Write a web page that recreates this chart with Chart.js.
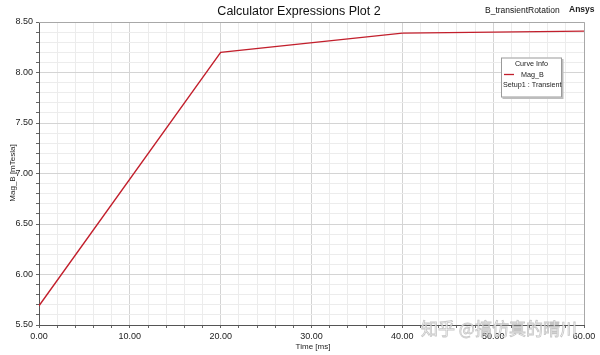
<!DOCTYPE html>
<html>
<head>
<meta charset="utf-8">
<script src="https://cdn.jsdelivr.net/npm/chart.js@4"></script>
<style>
  html, body { margin: 0; padding: 0; background: #ffffff; }
  #wrap { width: 600px; height: 355px; position: relative; }
  canvas { display: block; }
</style>
</head>
<body>
<div id="wrap"><canvas id="c" width="600" height="355"></canvas></div>
<script>
// ---- data ----
const timeMs = [0, 20, 40, 50, 60];
const magB = [5.69, 8.20, 8.39, 8.40, 8.41];
const xTickLabels = ['0.00', '10.00', '20.00', '30.00', '40.00', '50.00', '60.00'];
const yTickLabels = ['5.50', '6.00', '6.50', '7.00', '7.50', '8.00', '8.50'];
const seriesName = 'Mag_B';
const seriesSetup = 'Setup1 : Transient';
const chartTitle = 'Calculator Expressions Plot 2';
const designName = 'B_transientRotation';
const brandName = 'Ansys';
const xTitle = 'Time [ms]';
const yTitle = 'Mag_B [mTesla]';
const legendTitle = 'Curve Info';
const watermark = '知乎 @搞仿真的晴川';

const FONT = '"Liberation Sans", Arial, sans-serif';
const LINE_COLOR = '#c21f2c';

function isMajor(v, step) {
  const r = v / step;
  return Math.abs(r - Math.round(r)) < 1e-6;
}

const decor = {
  id: 'decor',
  afterDraw(chart) {
    const ctx = chart.ctx;
    const a = chart.chartArea;
    ctx.save();
    // frame top/right
    ctx.strokeStyle = '#a8a8a8';
    ctx.lineWidth = 1;
    ctx.beginPath();
    ctx.moveTo(a.left, a.top + 0.5);
    ctx.lineTo(a.right + 0.5, a.top + 0.5);
    ctx.lineTo(a.right + 0.5, a.bottom);
    ctx.stroke();

    // title
    ctx.fillStyle = '#111';
    ctx.textBaseline = 'middle';
    ctx.textAlign = 'center';
    ctx.font = '12.5px ' + FONT;
    ctx.fillText(chartTitle, 299, 12);
    ctx.textAlign = 'left';
    ctx.font = '8.5px ' + FONT;
    ctx.fillText(designName, 485, 11);
    ctx.font = 'bold 8.5px ' + FONT;
    ctx.fillStyle = '#222';
    ctx.fillText(brandName, 569, 10);

    // axis titles
    ctx.fillStyle = '#222';
    ctx.font = '8px ' + FONT;
    ctx.textAlign = 'center';
    ctx.fillText(xTitle, 313, 347);
    ctx.save();
    ctx.translate(12.5, 173);
    ctx.rotate(-Math.PI / 2);
    ctx.fillText(yTitle, 0, 0);
    ctx.restore();

    // legend box
    const bx = 501, by = 57.5, bw = 61, bh = 40;
    ctx.fillStyle = '#bdbdbd';
    ctx.fillRect(bx + 1.5, by + 1.5, bw, bh);
    ctx.fillStyle = '#ffffff';
    ctx.fillRect(bx, by, bw, bh);
    ctx.strokeStyle = '#9a9a9a';
    ctx.strokeRect(bx + 0.5, by + 0.5, bw - 1, bh - 1);
    ctx.fillStyle = '#222';
    ctx.font = '7.2px ' + FONT;
    ctx.textAlign = 'center';
    ctx.fillText(legendTitle, bx + bw / 2, 64);
    ctx.strokeStyle = LINE_COLOR;
    ctx.lineWidth = 1.3;
    ctx.beginPath();
    ctx.moveTo(504, 74.5);
    ctx.lineTo(514, 74.5);
    ctx.stroke();
    ctx.textAlign = 'left';
    ctx.fillText(seriesName, 521, 75);
    ctx.fillText(seriesSetup, 503, 85);

    // watermark
    ctx.font = '17px "Noto Sans CJK SC", sans-serif';
    ctx.textAlign = 'left';
    ctx.lineWidth = 0.8;
    ctx.fillStyle = 'rgba(255,255,255,0.85)';
    ctx.strokeStyle = 'rgba(150,150,150,0.55)';
    ctx.fillText(watermark, 421, 329);
    ctx.strokeText(watermark, 421, 329);
    ctx.restore();
  }
};

new Chart(document.getElementById('c'), {
  type: 'line',
  data: {
    datasets: [{
      label: seriesName,
      data: timeMs.map((t, i) => ({ x: t, y: magB[i] })),
      borderColor: LINE_COLOR,
      borderWidth: 1.4,
      pointRadius: 0,
      tension: 0,
      fill: false
    }]
  },
  options: {
    responsive: false,
    animation: false,
    devicePixelRatio: 1,
    layout: { padding: { top: 22, right: 16, left: 0, bottom: 0 } },
    plugins: { legend: { display: false }, title: { display: false }, tooltip: { enabled: false } },
    scales: {
      x: {
        type: 'linear',
        min: 0, max: 60,
        afterFit(s) { s.height = 30; },
        afterBuildTicks(s) {
          const t = [];
          for (let i = 0; i <= 30; i++) t.push({ value: i * 2 });
          s.ticks = t;
        },
        ticks: {
          autoSkip: false,
          maxRotation: 0,
          padding: 3,
          color: '#222',
          font: { family: FONT, size: 9 },
          callback(v) {
            return isMajor(v, 10) ? xTickLabels[Math.round(v / 10)] : '';
          }
        },
        grid: {
          color: (c) => isMajor(c.tick.value, 10) ? '#d4d4d4' : '#ececec',
          tickColor: '#666',
          tickLength: 3,
          drawTicks: true
        },
        border: { display: true, color: '#555', width: 1 }
      },
      y: {
        type: 'linear',
        min: 5.5, max: 8.5,
        afterFit(s) { s.width = 39; },
        afterBuildTicks(s) {
          const t = [];
          for (let i = 0; i <= 30; i++) t.push({ value: Math.round((5.5 + i * 0.1) * 10) / 10 });
          s.ticks = t;
        },
        ticks: {
          autoSkip: false,
          padding: 3,
          color: '#222',
          font: { family: FONT, size: 9 },
          callback(v) {
            return isMajor(v, 0.5) ? yTickLabels[Math.round((v - 5.5) / 0.5)] : '';
          }
        },
        grid: {
          color: (c) => isMajor(c.tick.value, 0.5) ? '#d4d4d4' : '#ececec',
          tickColor: '#666',
          tickLength: 3,
          drawTicks: true
        },
        border: { display: true, color: '#555', width: 1 }
      }
    }
  },
  plugins: [decor]
});
</script>
</body>
</html>
